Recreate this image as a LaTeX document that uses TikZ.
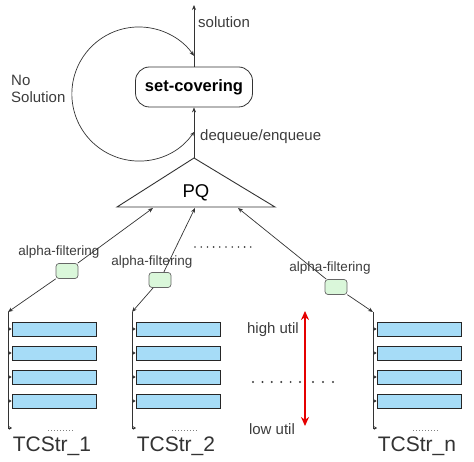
\documentclass[tikz,border=0pt]{standalone}
\usepackage{fontspec}
\setmainfont{Liberation Sans}
\usetikzlibrary{arrows.meta}
\definecolor{barblue}{RGB}{166,220,247}
\definecolor{afgreen}{RGB}{218,247,218}
\definecolor{txt}{RGB}{60,60,60}
\begin{document}
\begin{tikzpicture}[x=1pt,y=-1pt,
  lbl/.style={text=txt, inner sep=0pt, font=\fontsize{15}{17}\selectfont},
  aflbl/.style={text=txt, inner sep=0pt, font=\fontsize{13.5}{15}\selectfont},
  conn/.style={draw=black!80, line width=0.7pt},
  tip/.style={-{Stealth[length=5pt,width=4pt]}},
  smalltip/.style={-{Stealth[length=3pt,width=3.5pt]}},
  scbox/.style={draw=black!80, line width=0.8pt, rounded corners=14pt, minimum width=117pt, minimum height=40pt, inner sep=0pt, font=\bfseries\fontsize{16.5}{18}\selectfont},
  afbox/.style={draw=black!60, fill=afgreen, line width=0.7pt, rounded corners=3pt, minimum width=22pt, minimum height=15pt, inner sep=0pt},
  barbox/.style={draw=black!85, fill=barblue, line width=0.8pt, minimum width=84pt, minimum height=14pt, inner sep=0pt},
  bigdots/.style={draw=txt, line width=2pt, line cap=round, dash pattern=on 0pt off #1},
  tinydots/.style={draw=black!50, line width=0.8pt, dash pattern=on 0.8pt off 2.2pt},
]
\useasboundingbox (0,0) rectangle (474,462);

% set-covering and loop
\node[scbox] (sc) at (194,87) {set-covering};
\coordinate (solend) at (194,5);
\draw[conn,tip] (sc.north) -- (solend);
\node[lbl, anchor=west] (sol) at (198,22) {solution};

\coordinate (loopout) at (194,132);
\draw[conn,{Stealth[length=4pt,width=3.5pt]}-{Stealth[length=5pt,width=4pt]}] (loopout) arc[start angle=34.6, end angle=325.4, radius=67];
\node[lbl, anchor=west, align=left] (nosol) at (11,89) {No\\Solution};

% PQ triangle
\coordinate (apex) at (194,158);
\coordinate (bl) at (117,207);
\coordinate (br) at (275,207);
\draw[conn, line width=0.9pt] (apex) -- (bl) -- (br) -- cycle;
\node[inner sep=0pt, font=\fontsize{18.5}{20}\selectfont] (pq) at (196,193) {PQ};
\draw[conn,tip] (apex) -- (sc.south);
\node[lbl, anchor=west] (deq) at (200,137) {dequeue/enqueue};

% entries on the base of PQ
\coordinate (in1) at (153,208);
\coordinate (in2) at (195,208);
\coordinate (inn) at (238,208);
\coordinate (d1a) at (195,247);
\coordinate (d1b) at (255,247);
\draw[bigdots=6.2pt, line width=1.8pt] (d1a) -- (d1b);

% TCStr columns
\foreach \col/\lx in {1/8,2/132,n/373}{
  \coordinate (vt\col) at (\lx,312);
  \coordinate (vb\col) at (\lx,428);
  \coordinate (e\col) at (\lx+4,428);
  \draw[conn] (vt\col) -- (vb\col);
  \foreach \i/\yy in {1/329,2/353,3/377,4/401}{
    \node[barbox] (b\col\i) at (\lx+46,\yy) {};
    \coordinate (s\col\i) at (\lx,\yy);
    \draw[conn,smalltip] (s\col\i) -- (b\col\i.west);
  }
  \draw[conn,smalltip] (vb\col) -- (e\col);
  \coordinate (td\col a) at (\lx+40,430);
  \coordinate (td\col b) at (\lx+65,430);
  \draw[tinydots] (td\col a) -- (td\col b);
  \node[inner sep=0pt, text=black!80, font=\fontsize{21}{23}\selectfont] (lab\col) at (\lx+44,446) {TCStr\_\col};
}

% alpha-filtering boxes
\node[afbox] (af1) at (67,271) {};
\node[aflbl] (afl1) at (59,252) {alpha-filtering};
\node[afbox] (af2) at (160,280) {};
\node[aflbl] (afl2) at (152,262) {alpha-filtering};
\node[afbox] (afn) at (336,287) {};
\node[aflbl] (afln) at (330,268) {alpha-filtering};

\draw[conn,tip] (af1) -- (in1);
\draw[conn,tip] (af2) -- (in2);
\draw[conn,tip] (afn) -- (inn);
\draw[conn,tip] (af1) -- (vt1);
\draw[conn,tip] (af2) -- (vt2);
\draw[conn,tip] (afn) -- (vtn);

% utility arrow
\coordinate (hu) at (305,311);
\coordinate (lu) at (305,426);
\draw[red!90!black, line width=2.4pt, {Stealth[length=9pt,width=8pt]}-{Stealth[length=9pt,width=8pt]}] (hu) -- (lu);
\node[lbl] (high) at (273,330) {high util};
\node[lbl] (low) at (272,429) {low util};
\coordinate (d2a) at (253,382);
\coordinate (d2b) at (300,382);
\coordinate (d3a) at (313,382);
\coordinate (d3b) at (343,382);
\draw[bigdots=9.4pt, line width=2.2pt] (d2a) -- (d2b);
\draw[bigdots=10pt, line width=2.2pt] (d3a) -- (d3b);
\end{tikzpicture}
\end{document}
